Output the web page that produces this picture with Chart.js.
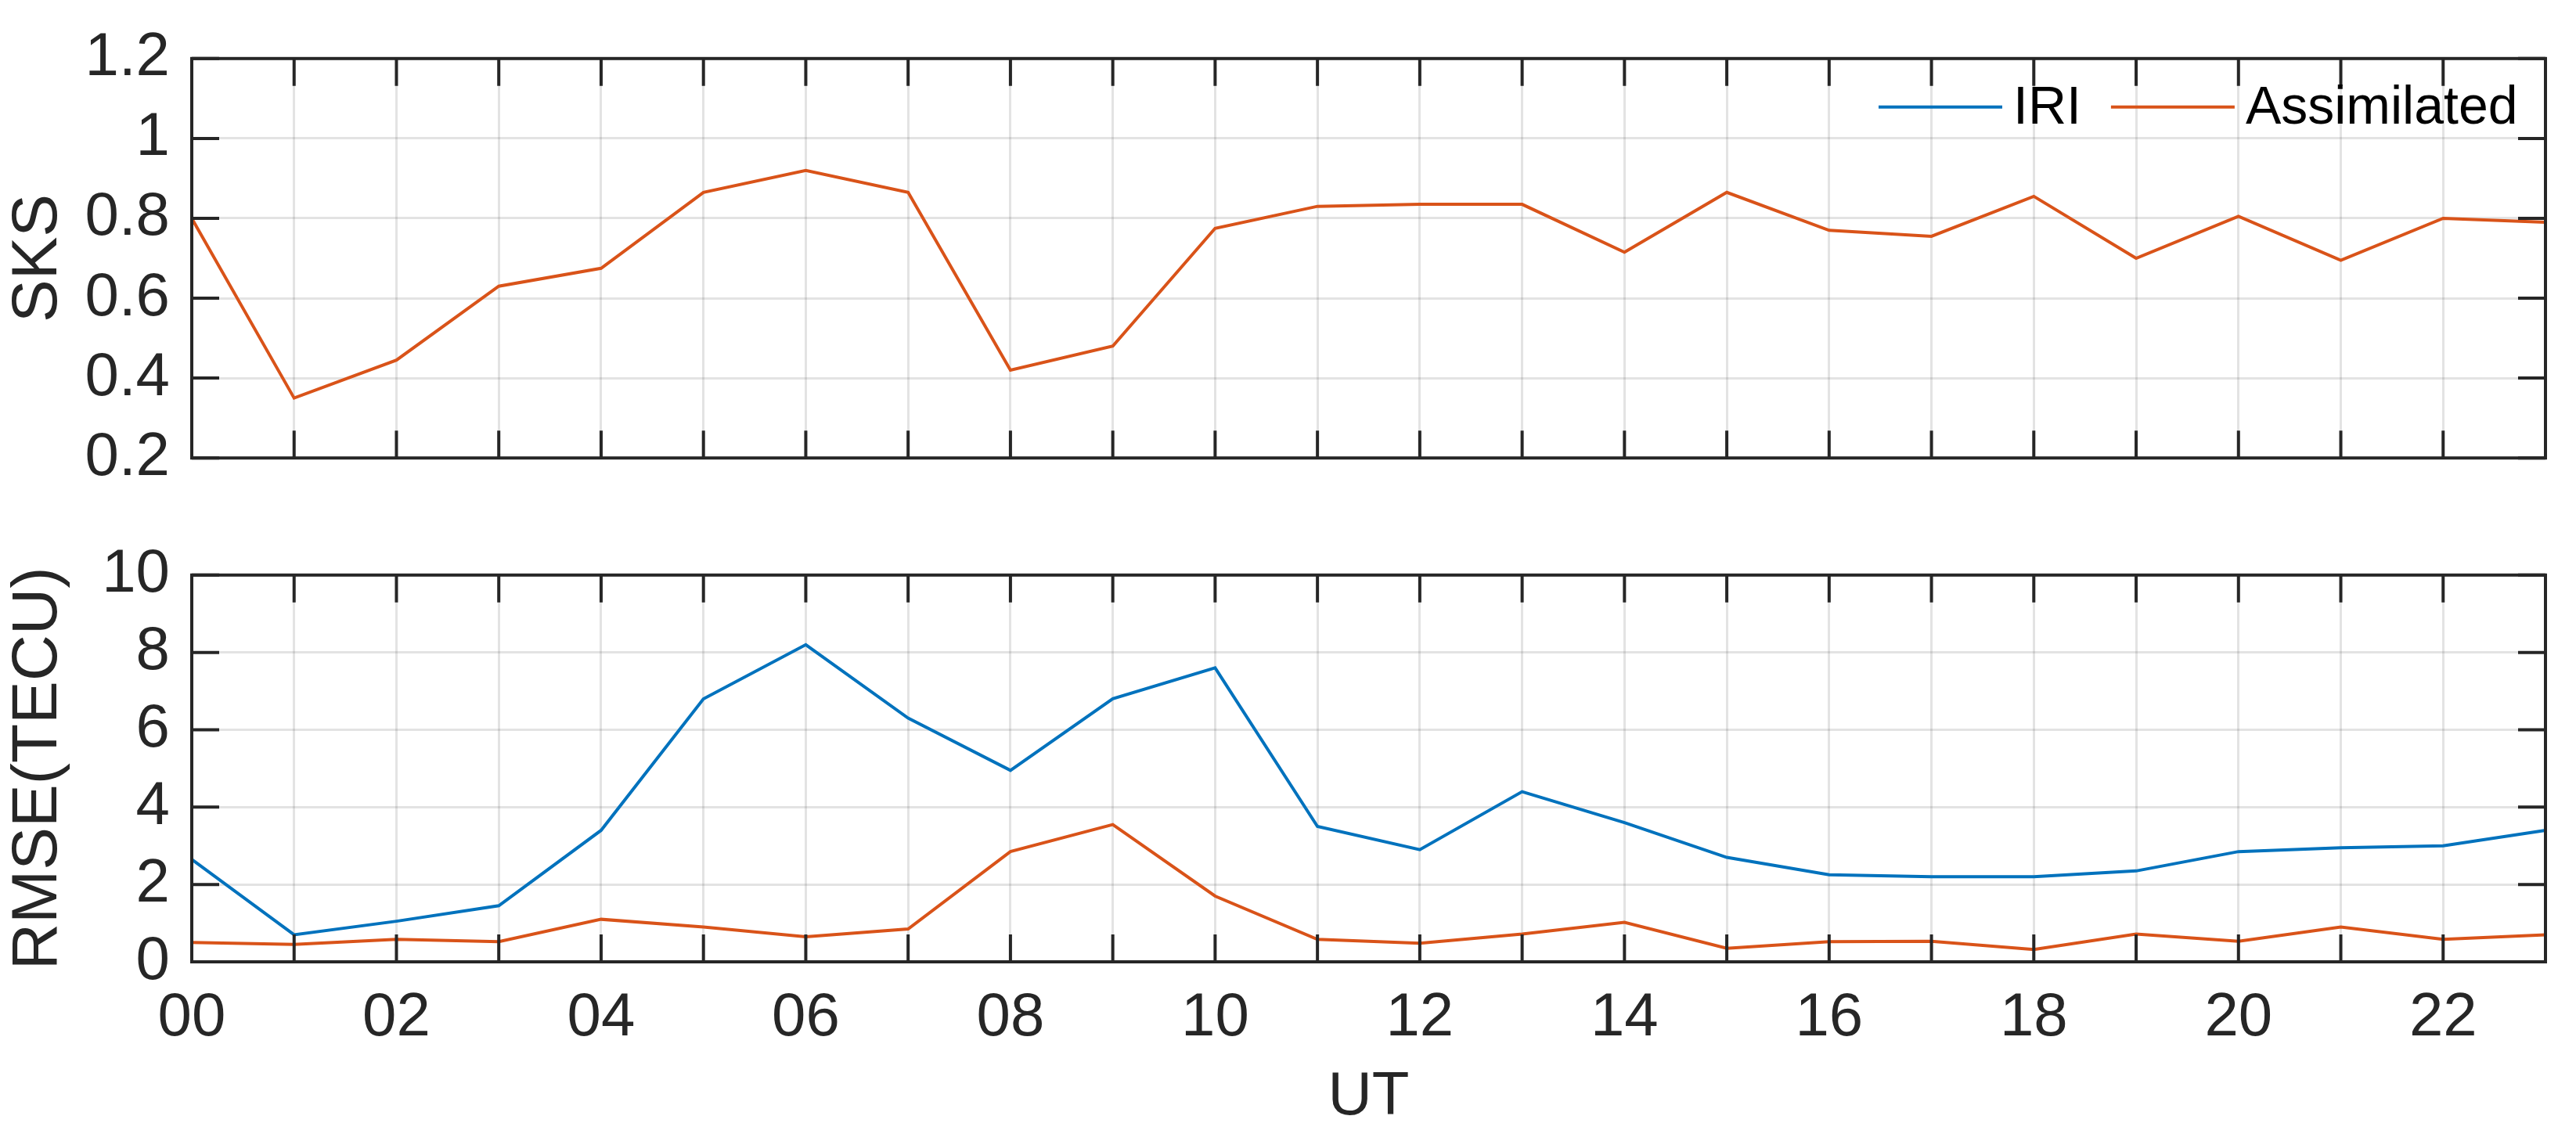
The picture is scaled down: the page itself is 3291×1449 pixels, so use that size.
<!DOCTYPE html>
<html>
<head>
<meta charset="utf-8">
<script src="https://cdn.jsdelivr.net/npm/chart.js@4"></script>
<style>
  body { margin: 0; background: #fff; width: 3291px; height: 1449px; overflow: hidden; }
  canvas { position: absolute; left: 0; }
  #top { top: 0; }
  #bottom { top: 660px; }
</style>
</head>
<body>
<canvas id="top" width="3291" height="660"></canvas>
<canvas id="bottom" width="3291" height="789"></canvas>
<script>
const hours = ['00','01','02','03','04','05','06','07','08','09','10','11',
               '12','13','14','15','16','17','18','19','20','21','22','23'];

const sksAssim = [0.80, 0.35, 0.445, 0.63, 0.675, 0.865, 0.92, 0.865, 0.42, 0.48, 0.775, 0.83,
                  0.835, 0.835, 0.715, 0.865, 0.77, 0.755, 0.855, 0.70, 0.805, 0.695, 0.80, 0.79];

const rmseIRI = [2.65, 0.7, 1.05, 1.45, 3.4, 6.8, 8.2, 6.3, 4.95, 6.8, 7.6, 3.5,
                 2.9, 4.4, 3.6, 2.7, 2.25, 2.2, 2.2, 2.35, 2.85, 2.95, 3.0, 3.4];
const rmseAssim = [0.5, 0.45, 0.58, 0.52, 1.1, 0.9, 0.65, 0.85, 2.85, 3.55, 1.7, 0.58,
                   0.48, 0.72, 1.02, 0.35, 0.52, 0.53, 0.32, 0.72, 0.53, 0.9, 0.58, 0.7];

const seriesNames = ['IRI', 'Assimilated'];
const seriesColors = ['#0072BD', '#D95319'];

const FONT = 'Liberation Sans, Arial, sans-serif';
const AXIS_COLOR = '#262626';

// box around the plot + inward tick marks (MATLAB look)
const boxTicks = {
  id: 'boxTicks',
  afterDatasetsDraw(chart) {
    const { ctx, chartArea: a, scales } = chart;
    const len = 35;
    ctx.save();
    ctx.strokeStyle = AXIS_COLOR;
    ctx.lineWidth = 4;
    ctx.beginPath();
    scales.x.ticks.forEach((t, i) => {
      const px = scales.x.getPixelForTick(i);
      ctx.moveTo(px, a.top); ctx.lineTo(px, a.top + len);
      ctx.moveTo(px, a.bottom); ctx.lineTo(px, a.bottom - len);
    });
    scales.y.ticks.forEach((t, i) => {
      const py = scales.y.getPixelForTick(i);
      ctx.moveTo(a.left, py); ctx.lineTo(a.left + len, py);
      ctx.moveTo(a.right, py); ctx.lineTo(a.right - len, py);
    });
    ctx.stroke();
    ctx.strokeRect(a.left, a.top, a.right - a.left, a.bottom - a.top);
    ctx.restore();
  }
};

// legend inside the top axes, upper right
const innerLegend = {
  id: 'innerLegend',
  afterDatasetsDraw(chart, args, opts) {
    if (!opts.show) return;
    const { ctx, chartArea: a } = chart;
    const y = a.top + 62;
    ctx.save();
    ctx.font = '68px ' + FONT;
    ctx.textBaseline = 'middle';
    ctx.fillStyle = '#000';
    ctx.lineWidth = 4;
    let x = 2400;
    seriesNames.forEach((name, i) => {
      ctx.strokeStyle = seriesColors[i];
      ctx.beginPath(); ctx.moveTo(x, y); ctx.lineTo(x + 158, y); ctx.stroke();
      ctx.fillText(name, x + 172, y + 2);
      x += 172 + ctx.measureText(name).width + 38;
    });
    ctx.restore();
  }
};

function makeChart(id, datasets, yMin, yMax, yStep, yTitle, showX, padTop, legend) {
  return new Chart(document.getElementById(id), {
    type: 'line',
    data: { labels: hours, datasets },
    options: {
      responsive: false,
      animation: false,
      devicePixelRatio: 1,
      layout: { padding: { top: padTop, right: 39, bottom: showX ? 0 : 34, left: 0 } },
      plugins: { legend: { display: false }, tooltip: { enabled: false }, innerLegend: { show: legend } },
      elements: { point: { radius: 0 }, line: { borderWidth: 4, tension: 0 } },
      scales: {
        x: {
          offset: false,
          grid: { color: 'rgba(0,0,0,0.11)', lineWidth: 3, drawTicks: false, offset: false },
          border: { display: false },
          ticks: {
            display: showX, autoSkip: false, maxRotation: 0, padding: 26,
            color: AXIS_COLOR, font: { family: FONT, size: 78 },
            callback: (v, i) => (i % 2 === 0 ? hours[i] : '')
          },
          title: { display: showX, text: 'UT', color: AXIS_COLOR, font: { family: FONT, size: 78 }, padding: { top: 10, bottom: 0 } },
          afterFit: s => { if (showX) s.height = 220; }
        },
        y: {
          min: yMin, max: yMax,
          grid: { color: 'rgba(0,0,0,0.11)', lineWidth: 3, drawTicks: false },
          border: { display: false },
          ticks: {
            stepSize: yStep, padding: 28, color: AXIS_COLOR, font: { family: FONT, size: 78 },
            callback: v => String(+v.toFixed(1))
          },
          title: { display: true, text: yTitle, color: AXIS_COLOR, font: { family: FONT, size: 82 }, padding: { top: 0, bottom: 4 } },
          afterFit: s => { s.width = 245; }
        }
      }
    },
    plugins: [boxTicks, innerLegend]
  });
}

makeChart('top', [
  { label: seriesNames[1], data: sksAssim, borderColor: seriesColors[1] }
], 0.2, 1.2, 0.2, 'SKS', false, 61, true);

makeChart('bottom', [
  { label: seriesNames[0], data: rmseIRI, borderColor: seriesColors[0] },
  { label: seriesNames[1], data: rmseAssim, borderColor: seriesColors[1] }
], 0, 10, 2, 'RMSE(TECU)', true, 21, false);
</script>
</body>
</html>
